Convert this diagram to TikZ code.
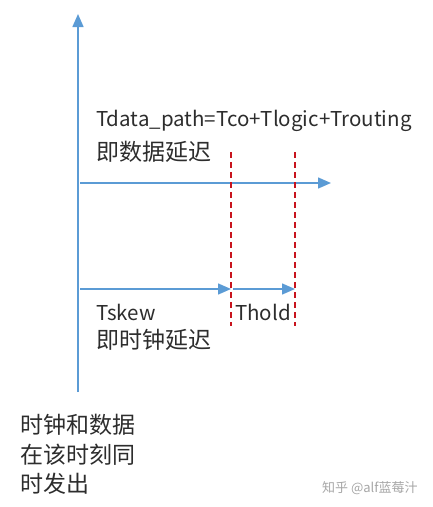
\documentclass[tikz,border=0pt]{standalone}
\usepackage{fontspec}
\setmainfont{Noto Sans CJK SC}
\usetikzlibrary{arrows.meta}
\definecolor{axisblue}{RGB}{91,155,213}
\definecolor{markred}{RGB}{200,20,30}
\definecolor{txtgray}{RGB}{45,45,45}
\tikzset{
  flow/.style={axisblue, line width=1.5pt, -{Triangle[length=13pt,width=11pt]}},
  bound/.style={markred, line width=1.5pt, dash pattern=on 6pt off 4pt},
  lbl/.style={anchor=west, inner sep=0pt, text=txtgray, font=\fontsize{20.5}{29}\selectfont},
  cnlbl/.style={lbl, font=\fontsize{23}{29.5}\selectfont}
}
\begin{document}
\begin{tikzpicture}[x=1pt,y=-1pt]
  \useasboundingbox (0,0) rectangle (432,507);
  % time axis
  \coordinate (o) at (78,392);
  \coordinate (top) at (78,14);
  \draw [flow] (o) -- (top);
  % data path
  \coordinate (d0) at (80,183);
  \coordinate (d1) at (331,183);
  \draw [flow] (d0) -- (d1);
  % clock path
  \coordinate (c0) at (80,289);
  \coordinate (c1) at (231,289);
  \coordinate (c2) at (233,289);
  \coordinate (c3) at (295,289);
  \draw [flow] (c0) -- (c1);
  \draw [flow] (c2) -- (c3);
  % setup/hold window
  \coordinate (ra) at (231,152);
  \coordinate (rb) at (231,326);
  \coordinate (rc) at (295,152);
  \coordinate (rd) at (295,326);
  \draw [bound] (ra) -- (rb);
  \draw [bound] (rc) -- (rd);
  % labels
  \node [lbl] (tdata) at (96,121) {Tdata\_path=Tco+Tlogic+Trouting};
  \node [cnlbl] (tdatacn) at (96,152) {即数据延迟};
  \node [lbl] (tskew) at (96,312) {Tskew};
  \node [cnlbl] (tskewcn) at (96,340) {即时钟延迟};
  \node [lbl] (thold) at (235,312) {Thold};
  \node [cnlbl, anchor=north west, align=left] (start) at (20,414) {时钟和数据\\在该时刻同\\时发出};
  \node [anchor=west, inner sep=0pt, text=black!35, font=\fontsize{13}{15}\selectfont] (mark) at (322,488) {知乎 @alf蓝莓汁};
\end{tikzpicture}
\end{document}
